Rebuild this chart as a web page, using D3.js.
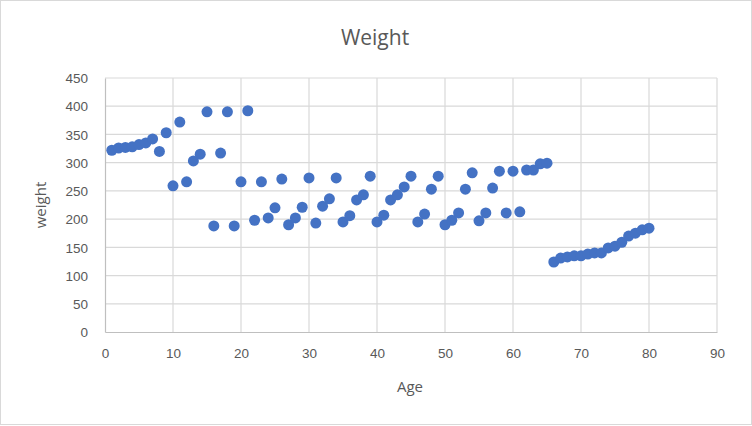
<!DOCTYPE html>
<html lang="en">
<head>
  <meta charset="UTF-8">
  <title>Weight</title>
  <style>
    body {
      margin: 0;
      background-color: #ffffff;
    }
    svg {
      display: block;
      font-family: 'Open Sans', 'Liberation Sans', sans-serif;
    }
    .tick text {
      fill: #595959;
      font-size: 13.5px;
    }
  </style>
</head>
<body>
  <svg width="752" height="426"></svg>
  <script src="https://cdn.jsdelivr.net/npm/d3@7/dist/d3.min.js"></script>
  <script>
    // Data
    const ages = [];
    for (let i = 1; i <= 80; i++) ages.push(i);
    const weights = [
      322, 326, 327, 328, 332, 335, 342, 320, 353, 259,
      372, 266, 303, 315, 390, 188, 317, 390, 188, 266,
      392, 198, 266, 202, 220, 271, 190, 202, 221, 273,
      193, 223, 236, 273, 195, 206, 234, 243, 276, 195,
      207, 234, 243, 257, 276, 195, 209, 253, 276, 190,
      198, 211, 253, 282, 197, 211, 255, 285, 211, 285,
      213, 287, 287, 298, 299, 124, 131, 133, 135, 135,
      138, 140, 140, 149, 152, 159, 170, 175, 181, 184
    ];
    const xTicks = [0, 10, 20, 30, 40, 50, 60, 70, 80, 90];
    const yTicks = [0, 50, 100, 150, 200, 250, 300, 350, 400, 450];

    const points = ages.map((a, i) => ({ age: a, weight: weights[i] }));

    // SVG setup
    const svgWidth = 752, svgHeight = 426;
    const svg = d3.select('svg');
    const plot = { left: 105, right: 717, top: 78, bottom: 332 };

    // Chart border
    svg.append('rect')
      .attr('x', 0.5)
      .attr('y', 0.5)
      .attr('width', svgWidth - 1)
      .attr('height', svgHeight - 2)
      .style('fill', 'none')
      .style('stroke', '#d9d9d9');

    const x = d3.scaleLinear().domain([0, 90]).range([plot.left, plot.right]);
    const y = d3.scaleLinear().domain([0, 450]).range([plot.bottom, plot.top]);

    // Gridlines
    svg.append('g')
      .selectAll('line.vgrid')
      .data(xTicks.slice(1))
      .enter().append('line')
      .attr('x1', d => x(d)).attr('x2', d => x(d))
      .attr('y1', plot.top).attr('y2', plot.bottom)
      .style('stroke', '#d9d9d9')
      .style('stroke-width', 1.2);

    svg.append('g')
      .selectAll('line.hgrid')
      .data(yTicks.slice(1))
      .enter().append('line')
      .attr('x1', plot.left).attr('x2', plot.right)
      .attr('y1', d => y(d)).attr('y2', d => y(d))
      .style('stroke', '#d9d9d9')
      .style('stroke-width', 1.2);

    // Axes
    const xAxis = svg.append('g')
      .attr('transform', `translate(0,${plot.bottom})`)
      .call(d3.axisBottom(x).tickValues(xTicks).tickSize(0).tickPadding(16));
    xAxis.select('.domain').style('stroke', '#bfbfbf').style('stroke-width', 1.2);

    const yAxis = svg.append('g')
      .attr('transform', `translate(${plot.left},0)`)
      .call(d3.axisLeft(y).tickValues(yTicks).tickSize(0).tickPadding(17));
    yAxis.select('.domain').style('stroke', '#bfbfbf').style('stroke-width', 1.2);
    yAxis.selectAll('.tick text').attr('dy', '0.35em');

    // Points
    svg.append('g')
      .selectAll('circle')
      .data(points)
      .enter().append('circle')
      .attr('cx', d => x(d.age))
      .attr('cy', d => y(d.weight))
      .attr('r', 5.5)
      .style('fill', '#4472c4');

    // Titles
    svg.append('text')
      .attr('x', 375)
      .attr('y', 45)
      .attr('text-anchor', 'middle')
      .style('font-size', '21px')
      .style('fill', '#595959')
      .text('Weight');

    svg.append('text')
      .attr('x', 410)
      .attr('y', 392)
      .attr('text-anchor', 'middle')
      .style('font-size', '15px')
      .style('fill', '#595959')
      .text('Age');

    svg.append('text')
      .attr('transform', 'translate(46,205) rotate(-90)')
      .attr('text-anchor', 'middle')
      .style('font-size', '15px')
      .style('fill', '#595959')
      .text('weight');
  </script>
</body>
</html>
